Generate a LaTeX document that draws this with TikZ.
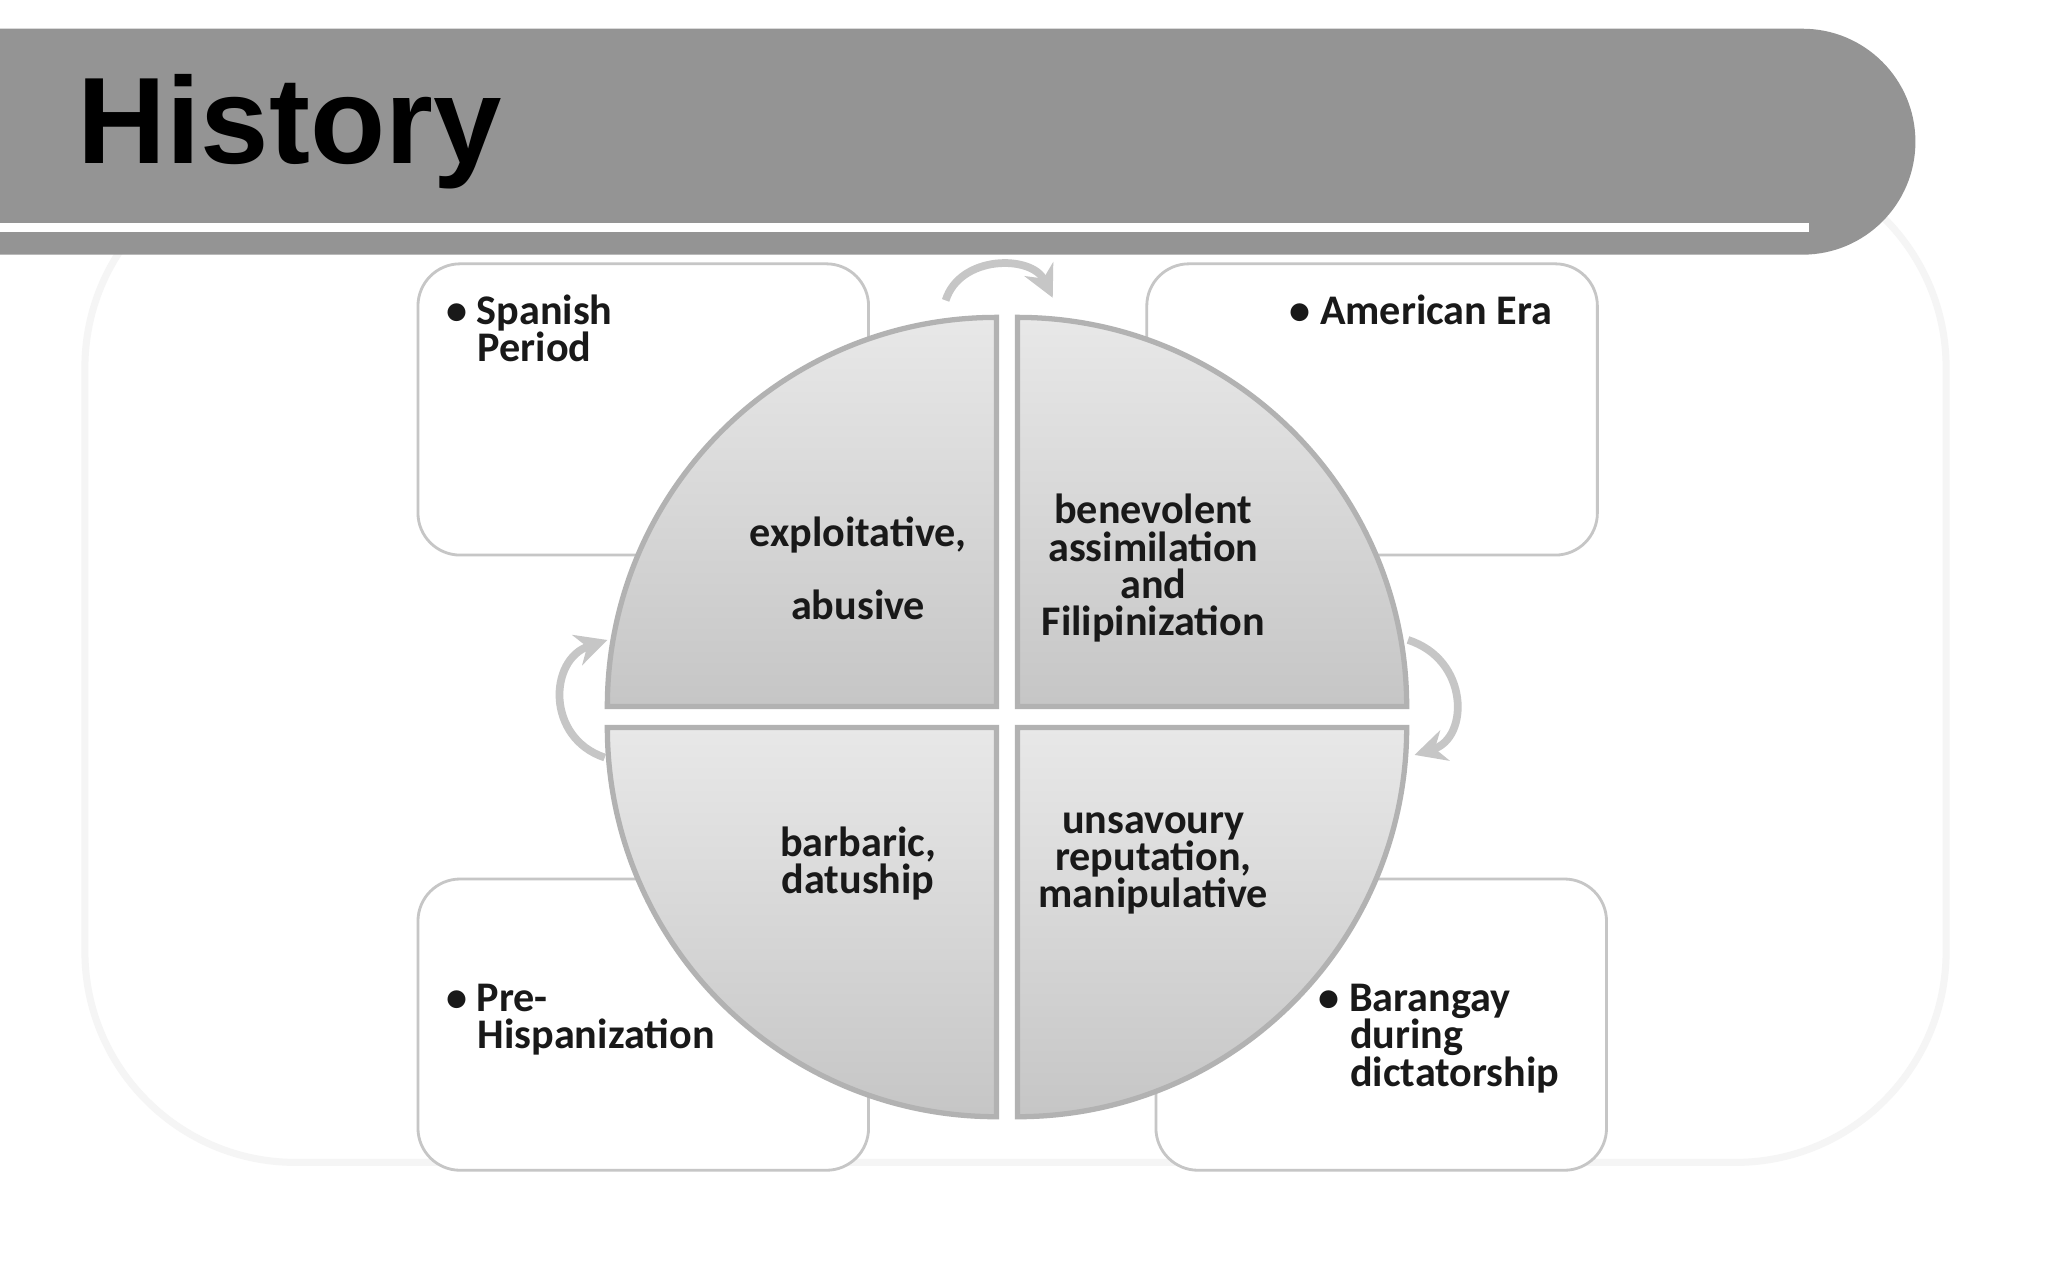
\documentclass[tikz,border=0pt]{standalone}
\usepackage{fontspec}
\setmainfont{Carlito}
\newfontfamily\titlefont{Liberation Sans}
\usetikzlibrary{arrows.meta}
\begin{document}
\begin{tikzpicture}[x=0.01306cm,y=-0.01306cm,
  box/.style={draw=gray!45,line width=0.8pt,rounded corners=12pt,fill=white},
  quad/.style={draw=gray!60,line width=1.5pt,top color=gray!18,bottom color=gray!45},
  qtext/.style={font=\bfseries\fontsize{12pt}{10.6pt}\selectfont,align=center,text=black!90},
  btext/.style={font=\bfseries\fontsize{12pt}{10.6pt}\selectfont,align=left,anchor=north west,text=black!90},
  cyc/.style={draw=gray!45,line width=2.2pt,-{Stealth[length=9pt,width=9pt]}}]
\useasboundingbox (0,0) rectangle (1568,980);
\fill[white] (0,0) rectangle (1568,980);
% faint frame
\draw[gray!8,line width=2pt,rounded corners=60pt] (65,120) rectangle (1490,890);
% header
\fill[black!42] (0,22) -- (1380,22) arc[start angle=270,end angle=450,radius=86.5] -- (0,195) -- cycle;
\fill[white] (0,171) rectangle (1385,178);
\node[anchor=west,font=\titlefont\bfseries\fontsize{35pt}{40pt}\selectfont] (title) at (50,101) {History};
% boxes
\draw[box] (320,202) rectangle (665,425);
\draw[box] (878,202) rectangle (1223,425);
\draw[box] (320,673) rectangle (665,896);
\draw[box] (885,673) rectangle (1230,896);
\node[btext] (sp) at (332,216) {\textbullet\ Spanish\\\hspace*{0.75em}Period};
\node[btext,anchor=north east] (am) at (1198,216) {\textbullet\ American Era};
\node[btext] (pre) at (332,744) {\textbullet\ Pre-\\\hspace*{0.75em}Hispanization};
\node[btext] (bar) at (1000,744) {\textbullet\ Barangay\\\hspace*{0.75em}during\\\hspace*{0.75em}dictatorship};
% quadrants
\draw[quad] (763,541) -- ++(-298,0) arc[start angle=180,end angle=270,radius=298] -- cycle;
\draw[quad] (779,541) -- ++(0,-298) arc[start angle=270,end angle=360,radius=298] -- cycle;
\draw[quad] (763,557) -- ++(0,298) arc[start angle=90,end angle=180,radius=298] -- cycle;
\draw[quad] (779,557) -- ++(298,0) arc[start angle=0,end angle=90,radius=298] -- cycle;
\node[qtext] (q1) at (657,435) {exploitative,\\[10pt]abusive};
\node[qtext] (q2) at (883,435) {benevolent\\assimilation\\and\\Filipinization};
\node[qtext] (q3) at (657,661) {barbaric,\\datuship};
\node[qtext] (q4) at (883,661) {unsavoury\\reputation,\\manipulative};
% cycle arrows
\coordinate (t1) at (724,230); \coordinate (t2) at (806,228);
\draw[cyc] (t1) .. controls (735,195) and (790,195) .. (t2);
\coordinate (r1) at (1078,490); \coordinate (r2) at (1083,578);
\draw[cyc] (r1) .. controls (1125,505) and (1125,565) .. (r2);
\coordinate (l1) at (463,580); \coordinate (l2) at (465,490);
\draw[cyc] (l1) .. controls (418,565) and (420,505) .. (l2);
\end{tikzpicture}
\end{document}
